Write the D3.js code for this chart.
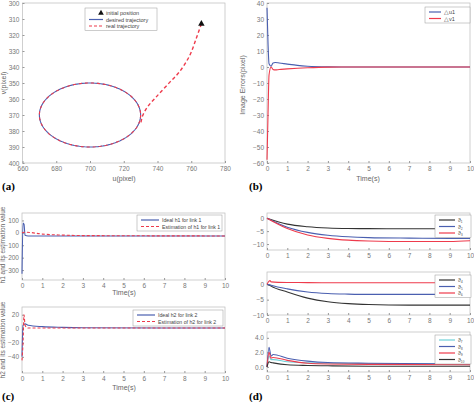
<!DOCTYPE html><html><head><meta charset="utf-8">
<script src="https://cdn.jsdelivr.net/npm/d3@7"></script>
<style>body{margin:0;background:#fff}svg{font-family:"Liberation Sans",Arial,sans-serif}</style></head><body>
<svg id="c" width="474" height="402"></svg>
<script>
// (a)
const ellipseCenter=[700,370], ellipseRadii=[30,20];
const realApproach=[[766,313],[763,322],[759,333],[753,343],[746,351],[739,359],[734,365],[731,371],[730,376]];
const initialPos=[766,313];
// (b)
const bT=[0,0.05,0.1,0.2,0.3,0.4,0.6,1,1.5,2,3,4,10];
const bU=[37,15,2,0.5,2.5,2.8,2.5,1.8,1,0.5,0.1,0,0];
const bV=[-58,-30,-5,0,-1.5,-1.8,-1.6,-1.2,-0.8,-0.5,-0.1,0,0];
// (c)
const c1T=[0,0.05,0.1,0.15,0.3,10], c1Ideal=[-330,80,70,-20,-25,-25];
const c1eT=[0,0.1,0.2,1,2,3,10], c1Est=[0,5,5,-10,-18,-22,-25];
const c2T=[0,0.05,0.15,0.3,1,2,3,10], c2Ideal=[-40,5,7,5,3,2,1.5,1];
const c2eT=[0,0.05,0.1,0.15,0.3,10], c2Est=[-45,-20,20,5,1,1];
// (d)
const dT=[0,1,2,3,4,5,7,9,10];
const dS1=[[0,-2.3,-3.3,-3.8,-4,-4.05,-4.1,-4.1,-4.1],[0,-3.5,-5.5,-6.6,-7.2,-7.5,-7.7,-7.8,-7.8],[0,-4,-6.5,-7.8,-8.5,-8.8,-9,-9,-8.7]];
const d2T=[0,0.1,0.15,0.2,1,2,3,4,5,7,10];
const dS2=[[0,-0.3,-0.4,-0.6,-2.5,-4.5,-5.7,-6.3,-6.6,-6.8,-6.8],[0,-0.1,-0.2,-0.3,-1.5,-2.5,-3,-3.2,-3.3,-3.3,-3.3],[0,1,1.2,0.8,0.6,0.55,0.5,0.5,0.5,0.5,0.5]];
const d3T=[0,0.1,0.2,0.3,1,2,3,5,10];
const dS3=[[0,1.5,1,1,0.7,0.55,0.5,0.45,0.4],[0,2.7,1.5,1.7,1.2,0.8,0.6,0.5,0.4],[0,2,1.2,1.3,0.9,0.5,0.4,0.35,0.3],[0,0.7,0.6,0.55,0.3,0.2,0.15,0.1,0.1]];
const dLabels=[["ϑ₁","ϑ₂","ϑ₃"],["ϑ₄","ϑ₅","ϑ₆"],["ϑ₇","ϑ₈","ϑ₉","ϑ₁₀"]];
const timeTicks=d3.range(0,11);

const svg=d3.select("#c");
const BLUE="#4a5fb0",RED="#ee3b4c",BLACK="#333",CYAN="#6fd0d8",GRAY="#777";
function frame(x0,x1,y0,y1,xd,yd,xt,yt,invert){
  const x=d3.scaleLinear().domain(xd).range([x0,x1]);
  const y=d3.scaleLinear().domain(yd).range(invert?[y0,y1]:[y1,y0]);
  const g=svg.append("g");
  g.append("rect").attr("x",x0).attr("y",y0).attr("width",x1-x0).attr("height",y1-y0).attr("fill","#fff").attr("stroke","#bbb").attr("stroke-width",0.7);
  const ax=g.append("g").attr("transform",`translate(0,${y1})`).call(d3.axisBottom(x).tickValues(xt).tickSize(-2).tickPadding(3));
  const ay=g.append("g").attr("transform",`translate(${x0},0)`).call(d3.axisLeft(y).tickValues(yt).tickSize(-2).tickPadding(3));
  [ax,ay].forEach(a=>{a.select(".domain").remove();a.selectAll("line").attr("stroke","#999");a.selectAll("text").attr("fill",GRAY).attr("font-size",6.5);});
  return {x,y,g};
}
function line(f,xs,ys,color,dash,w){
  f.g.append("path").datum(xs.map((t,i)=>[t,ys[i]])).attr("fill","none").attr("stroke",color).attr("stroke-width",w||1.1)
   .attr("stroke-dasharray",dash||null).attr("d",d3.line().x(d=>f.x(d[0])).y(d=>f.y(d[1])).curve(d3.curveMonotoneX));
}
function legend(x,y,w,items,fs){
  const g=svg.append("g");const h=items.length*6.5+3;
  g.append("rect").attr("x",x).attr("y",y).attr("width",w).attr("height",h).attr("fill","#fff").attr("stroke","#999").attr("stroke-width",0.5);
  items.forEach((it,i)=>{const yy=y+5+i*6.5;
    if(it.marker) g.append("path").attr("d",d3.symbol(d3.symbolTriangle,14)()).attr("transform",`translate(${x+16},${yy})`).attr("fill","#111");
    else g.append("line").attr("x1",x+4).attr("x2",x+ (it.len||18)).attr("y1",yy).attr("y2",yy).attr("stroke",it.color).attr("stroke-width",1.2).attr("stroke-dasharray",it.dash||null);
    g.append("text").attr("x",x+(it.len||18)+3).attr("y",yy+2).attr("font-size",fs||5.5).attr("fill","#444").text(it.label);});
}
function label(x,y,t,rot,fs){svg.append("text").attr("x",x).attr("y",y).attr("font-size",fs||7).attr("fill","#666").attr("text-anchor","middle")
  .attr("transform",rot?`rotate(-90,${x},${y})`:null).text(t);}
function tag(x,y,t){svg.append("text").attr("x",x).attr("y",y).attr("font-family","Liberation Serif,serif").attr("font-weight","bold").attr("font-size",11).text(t);}

// (a)
const fa=frame(22.5,225,3,163,[660,780],[300,400],d3.range(660,781,20),d3.range(300,401,10),true);
const ell=d3.range(0,361,3).map(a=>[ellipseCenter[0]+ellipseRadii[0]*Math.cos(a*Math.PI/180),ellipseCenter[1]+ellipseRadii[1]*Math.sin(a*Math.PI/180)]);
const lp=d3.line().x(d=>fa.x(d[0])).y(d=>fa.y(d[1]));
fa.g.append("path").attr("d",lp(ell)).attr("fill","none").attr("stroke",BLUE).attr("stroke-width",1.1);
fa.g.append("path").attr("d",lp(ell)).attr("fill","none").attr("stroke",RED).attr("stroke-width",1.1).attr("stroke-dasharray","3,3");
fa.g.append("path").attr("d",d3.line().x(d=>fa.x(d[0])).y(d=>fa.y(d[1])).curve(d3.curveCatmullRom)(realApproach)).attr("fill","none").attr("stroke",RED).attr("stroke-width",1.4).attr("stroke-dasharray","3.5,2.5");
fa.g.append("path").attr("d",d3.symbol(d3.symbolTriangle,18)()).attr("transform",`translate(${fa.x(initialPos[0])},${fa.y(initialPos[1])})`).attr("fill","#111");
legend(85,8,72,[{marker:1,label:"initial position"},{color:BLUE,label:"desired trajectory"},{color:RED,dash:"3,2",label:"real trajectory"}]);
label(124,181,"u(pixel)");label(6,83,"v(pixel)",1);tag(2,190,"(a)");

// (b)
const fb=frame(267,470,3,163,[0,10],[-60,40],timeTicks,d3.range(-60,41,10));
line(fb,bT,bU,BLUE);line(fb,bT,bV,RED);
legend(425,7,45,[{color:BLUE,label:"△u1",len:16},{color:RED,label:"△v1",len:16}],5.5);
label(368,181,"Time(s)");label(245,85,"Image Errors(pixel)",1);tag(249,190,"(b)");

// (c)
const fc1=frame(22,225,213,280,[0,10],[-380,160],timeTicks,[100,0,-100,-200,-300]);
line(fc1,c1T,c1Ideal,BLUE);line(fc1,c1eT,c1Est,RED,"3,2");
legend(137,215,85,[{color:BLUE,label:"Ideal h1 for link 1",len:22},{color:RED,dash:"3,2",label:"Estimation of h1 for link 1",len:22}],5.2);
label(124,295,"Time(s)");label(5,245,"h1 and its estimation value",1,6.5);
const fc2=frame(22,225,307,373,[0,10],[-63,31],timeTicks,[20,0,-20,-40]);
line(fc2,c2T,c2Ideal,BLUE);line(fc2,c2eT,c2Est,RED,"3,2");
legend(133,310,90,[{color:BLUE,label:"Ideal h2 for link 2",len:22},{color:RED,dash:"3,2",label:"Estimation of h2 for link 2",len:22}],5.2);
label(124,390,"Time(s)");label(5,340,"h2 and its estimation value",1,6.5);tag(2,400,"(c)");

// (d)
const cols3=[BLACK,BLUE,RED];
const fd1=frame(267,470,213,250,[0,10],[-12.3,2],timeTicks,[0,-5,-10]);
dS1.forEach((s,i)=>line(fd1,dT,s,cols3[i]));
legend(435,215,36,dLabels[0].map((l,i)=>({color:cols3[i],label:l,len:20})),5);
const fd2=frame(267,470,272,315,[0,10],[-10,4],timeTicks,[0,-5,-10]);
dS2.forEach((s,i)=>line(fd2,d2T,s,cols3[i]));
legend(435,275,36,dLabels[1].map((l,i)=>({color:cols3[i],label:l,len:20})),5);
const cols4=[CYAN,BLUE,RED,BLACK];
const fd3=frame(267,470,332,372,[0,10],[-0.7,4.8],timeTicks,[0,2,4]);
dS3.forEach((s,i)=>line(fd3,d3T,s,cols4[i]));
legend(435,335,36,dLabels[2].map((l,i)=>({color:cols4[i],label:l,len:20})),5);
tag(249,400,"(d)");
</script></body></html>
